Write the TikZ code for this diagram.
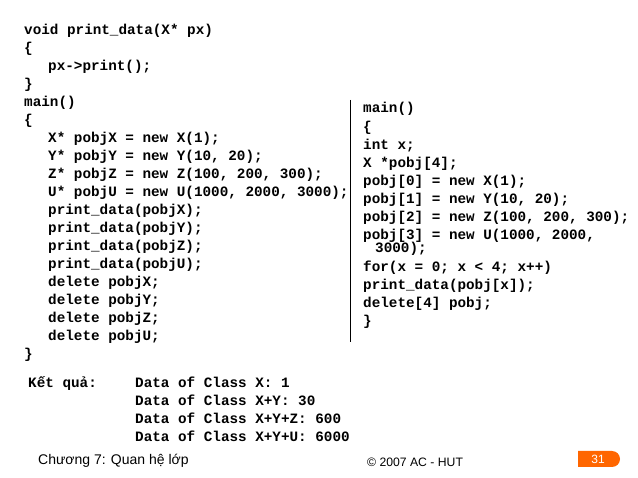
\documentclass[tikz,border=0pt]{standalone}
\usepackage{fontspec}
\setmainfont{Liberation Sans}
\newfontfamily\codefont{Liberation Mono}
\begin{document}
\begin{tikzpicture}[x=1pt,y=-1pt,
  code/.style={anchor=base west,inner sep=0pt,font=\codefont\bfseries\fontsize{14.3}{16}\selectfont},
  foot/.style={anchor=base west,inner sep=0pt,font=\fontsize{14}{16}\selectfont}]
\useasboundingbox[fill=white] (0,0) rectangle (638,478);
\node[code] (l1) at (24,35) {void print\_data(X* px)};
\node[code] (l2) at (24,53) {\{};
\node[code] (l3) at (48,71) {px->print();};
\node[code] (l4) at (24,89) {\}};
\node[code] (l5) at (24,107) {main()};
\node[code] (l6) at (24,125) {\{};
\node[code] (l7) at (48,143) {X* pobjX = new X(1);};
\node[code] (l8) at (48,161) {Y* pobjY = new Y(10, 20);};
\node[code] (l9) at (48,179) {Z* pobjZ = new Z(100, 200, 300);};
\node[code] (l10) at (48,197) {U* pobjU = new U(1000, 2000, 3000);};
\node[code] (l11) at (48,215) {print\_data(pobjX);};
\node[code] (l12) at (48,233) {print\_data(pobjY);};
\node[code] (l13) at (48,251) {print\_data(pobjZ);};
\node[code] (l14) at (48,269) {print\_data(pobjU);};
\node[code] (l15) at (48,287) {delete pobjX;};
\node[code] (l16) at (48,305) {delete pobjY;};
\node[code] (l17) at (48,323) {delete pobjZ;};
\node[code] (l18) at (48,341) {delete pobjU;};
\node[code] (l19) at (24,359) {\}};
\coordinate (vt) at (350,100);
\coordinate (vb) at (350,342);
\draw[line width=1pt] (vt) -- (vb);
\node[code] (r1) at (363,113) {main()};
\node[code] (r2) at (363,132) {\{};
\node[code] (r3) at (363,150) {int x;};
\node[code] (r4) at (363,168) {X *pobj[4];};
\node[code] (r5) at (363,186) {pobj[0] = new X(1);};
\node[code] (r6) at (363,204) {pobj[1] = new Y(10, 20);};
\node[code] (r7) at (363,222) {pobj[2] = new Z(100, 200, 300);};
\node[code] (r8) at (363,240) {pobj[3] = new U(1000, 2000,};
\node[code] (r9) at (375,253) {3000);};
\node[code] (r10) at (363,272) {for(x = 0; x < 4; x++)};
\node[code] (r11) at (363,290) {print\_data(pobj[x]);};
\node[code] (r12) at (363,308) {delete[4] pobj;};
\node[code] (r13) at (363,326) {\}};
\node[code] (k) at (28,388) {Kết quả:};
\node[code] (o1) at (135,388) {Data of Class X: 1};
\node[code] (o2) at (135,406) {Data of Class X+Y: 30};
\node[code] (o3) at (135,424) {Data of Class X+Y+Z: 600};
\node[code] (o4) at (135,442) {Data of Class X+Y+U: 6000};
\node[foot] (f1) at (38,465) {Chương 7: Quan hệ lớp};
\node[foot,font=\fontsize{12.2}{14}\selectfont] (f2) at (367,467) {© 2007 AC - HUT};
\fill[orange!80!red] (578,451) -- (612,451) arc[start angle=-90,end angle=90,radius=8] -- (578,467) -- cycle;
\node[foot,anchor=center,text=white,font=\fontsize{12}{14}\selectfont] (pg) at (598,459) {31};
\end{tikzpicture}
\end{document}
